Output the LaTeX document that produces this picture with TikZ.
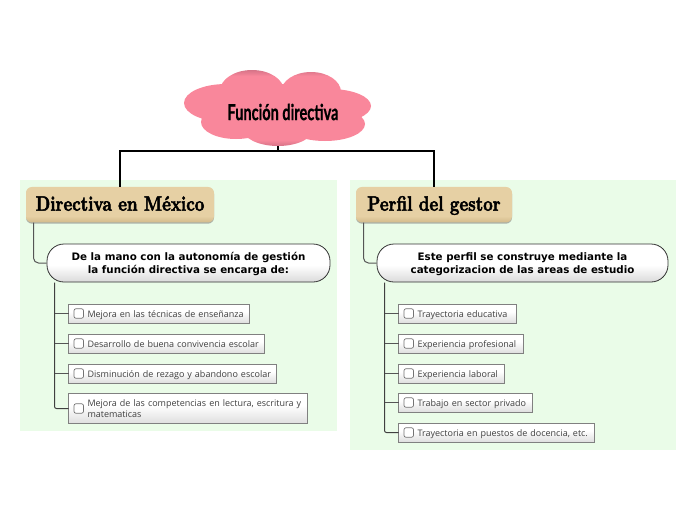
\documentclass[tikz,border=0pt]{standalone}
\usepackage{fontspec}
\usetikzlibrary{positioning, shadows}
\newfontfamily\rootfont[FakeStretch=0.66, FakeBold=0.6]{Lato Bold}
\newfontfamily\topicfont[Extension=.otf, FakeStretch=0.8, FakeBold=2.2]{lmroman10-bold}
\newfontfamily\pillfont{DejaVu Sans Bold}
\newfontfamily\itemfont{Open Sans}
\definecolor{panelgreen}{HTML}{EAFCE8}
\definecolor{cloudpink}{HTML}{F9879B}
\definecolor{clouddark}{HTML}{D67488}
\definecolor{tanfill}{HTML}{E6D0A4}
\definecolor{tandark}{HTML}{D3BA8A}
\definecolor{pillgray}{HTML}{DADADA}
\definecolor{itemgray}{HTML}{DEDEDE}
\definecolor{stubgray}{HTML}{555555}
\pgfdeclareverticalshading{cloudfade}{100bp}{color(0bp)=(clouddark); color(25bp)=(clouddark); color(29bp)=(cloudpink); color(71bp)=(cloudpink); color(75bp)=(clouddark); color(100bp)=(clouddark)}
\pgfdeclareverticalshading{tanfade}{100bp}{color(0bp)=(tandark); color(25bp)=(tandark); color(34bp)=(tanfill); color(100bp)=(tanfill)}
\pgfdeclareverticalshading{pillfade}{100bp}{color(0bp)=(pillgray); color(25bp)=(pillgray); color(47bp)=(white); color(100bp)=(white)}
\pgfdeclareverticalshading{itemfade}{100bp}{color(0bp)=(itemgray); color(25bp)=(itemgray); color(55bp)=(white); color(100bp)=(white)}

\begin{document}
\begin{tikzpicture}[x=1pt, y=-1pt]
	\tikzstyle{panel} = [fill=panelgreen, draw=none]
	\tikzstyle{rootline} = [line width=2pt, black]
	\tikzstyle{stemline} = [line width=1pt, stubgray, rounded corners=5pt]
	\tikzstyle{trunk} = [line width=1pt, black!75, rounded corners=2pt]
	\tikzstyle{stub} = [line width=1pt, stubgray]
	\tikzstyle{topic} = [rectangle, rounded corners=6pt, shade, shading=tanfade, draw=none, 
	minimum height=35.5pt, inner xsep=0pt, text height=12pt, text depth=0pt, 
	font=\topicfont\fontsize{20.8}{24}\selectfont, 
	drop shadow={shadow xshift=0pt, shadow yshift=-1.2pt, opacity=0.6, fill=black!50}]
	\tikzstyle{pill} = [rectangle, rounded corners=17pt, shade, shading=pillfade, 
	draw=black!80, line width=0.8pt, minimum height=38pt, align=center, text depth=0pt, 
	font=\pillfont\fontsize{10.3}{13.4}\selectfont]
	\tikzstyle{itembox} = [rectangle, shade, shading=itemfade, draw=black!50, line width=1pt, 
	anchor=west, inner xsep=3pt, inner ysep=0pt, minimum height=19pt, align=left, outer sep=0pt, 
	text=black!75, font=\itemfont\fontsize{9}{11.4}\selectfont]
	\tikzstyle{itemline} = [text height=9pt, text depth=1pt]
	\tikzstyle{checkbox} = [rectangle, rounded corners=2pt, draw=black!55, fill=white, line width=0.7pt, 
	minimum width=9.5pt, minimum height=9.5pt, inner sep=0pt, outer sep=0pt]
	\useasboundingbox (0,0) rectangle (696,520);
	\fill [panel] (20,180) rectangle (337,431);
	\fill [panel] (350,180) rectangle (676,450);
	% cloud
	\shade [shading=cloudfade]
		(252,91) ellipse [x radius=32, y radius=21]
		(311,92) ellipse [x radius=30, y radius=20]
		(226,103) ellipse [x radius=42, y radius=19]
		(330,106) ellipse [x radius=41, y radius=17]
		(236,122) ellipse [x radius=35, y radius=17]
		(325,124) ellipse [x radius=40, y radius=17]
		(278,128) ellipse [x radius=36, y radius=18]
		(278,108) ellipse [x radius=60, y radius=24];
	\node (root) at (283,112) {\rootfont\fontsize{22}{24}\selectfont Función directiva};
	\coordinate (rootbase) at (278,146);
	\coordinate (rootbus) at (278,151);
	\node (directiva) [topic, minimum width=188pt] at (120,204.7) {Directiva en México};
	\node (perfil) [topic, minimum width=156pt] at (434,204.7) {Perfil del gestor};
	\node (mano) [pill, minimum width=283pt] at (188.5,263) {De la mano con la autonomía de gestión\\la función directiva se encarga de:};
	\node (construye) [pill, minimum width=291pt] at (522.5,263) {Este perfil se construye mediante la\\categorizacion de las areas de estudio};
	\node (mejora) [itembox, itemline, text width=175pt] at (68.5,313.5) {\hspace*{16pt}Mejora en las técnicas de enseñanza};
	\node (desarrollo) [itembox, itemline, text width=190pt] at (68.5,343.5) {\hspace*{16pt}Desarrollo de buena convivencia escolar};
	\node (rezago) [itembox, itemline, text width=202pt] at (68.5,373.5) {\hspace*{16pt}Disminución de rezago y abandono escolar};
	\node (lectura) [itembox, text width=233pt, minimum height=30pt] at (68.5,408.5) {\hspace*{16pt}Mejora de las competencias en lectura, escritura y\\\hspace*{16pt}matematicas};
	\node (trayectoria) [itembox, itemline, text width=112pt] at (398.5,313.5) {\hspace*{16pt}Trayectoria educativa};
	\node (experiencia) [itembox, itemline, text width=119pt] at (398.5,343.5) {\hspace*{16pt}Experiencia profesional};
	\node (laboral) [itembox, itemline, text width=100pt] at (398.5,373.5) {\hspace*{16pt}Experiencia laboral};
	\node (privado) [itembox, itemline, text width=128pt] at (398.5,402.5) {\hspace*{16pt}Trabajo en sector privado};
	\node (docencia) [itembox, itemline, text width=190pt] at (398.5,432.5) {\hspace*{16pt}Trayectoria en puestos de docencia, etc.};
	\node (chkmejora) [checkbox, right=5.5pt of mejora.west] {};
	\node (chkdesarrollo) [checkbox, right=5.5pt of desarrollo.west] {};
	\node (chkrezago) [checkbox, right=5.5pt of rezago.west] {};
	\node (chklectura) [checkbox, right=5.5pt of lectura.west] {};
	\node (chktrayectoria) [checkbox, right=5.5pt of trayectoria.west] {};
	\node (chkexperiencia) [checkbox, right=5.5pt of experiencia.west] {};
	\node (chklaboral) [checkbox, right=5.5pt of laboral.west] {};
	\node (chkprivado) [checkbox, right=5.5pt of privado.west] {};
	\node (chkdocencia) [checkbox, right=5.5pt of docencia.west] {};
	\coordinate (trunkleft) at (54.5,282.5);
	\coordinate (trunkright) at (384.5,282.5);
	\draw [rootline] (rootbase) -- (rootbus);
	\draw [rootline] (rootbus) -| (directiva.north);
	\draw [rootline] (rootbus) -| (perfil.north);
	\draw [stemline] (directiva.south -| 33.5,0) |- (mano.west);
	\draw [stemline] (perfil.south -| 363.5,0) |- (construye.west);
	\draw [trunk] (trunkleft) |- (lectura.west);
	\draw [trunk] (trunkright) |- (docencia.west);
	\draw [stub] (trunkleft |- mejora.west) -- (mejora.west);
	\draw [stub] (trunkleft |- desarrollo.west) -- (desarrollo.west);
	\draw [stub] (trunkleft |- rezago.west) -- (rezago.west);
	\draw [stub] (trunkright |- trayectoria.west) -- (trayectoria.west);
	\draw [stub] (trunkright |- experiencia.west) -- (experiencia.west);
	\draw [stub] (trunkright |- laboral.west) -- (laboral.west);
	\draw [stub] (trunkright |- privado.west) -- (privado.west);
\end{tikzpicture}
\end{document}
